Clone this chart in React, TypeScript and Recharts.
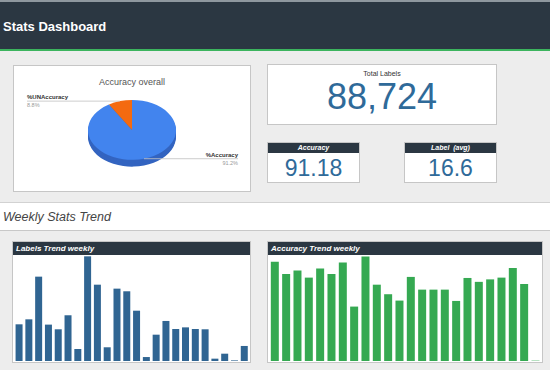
import { Bar, BarChart, Pie, PieChart, XAxis, YAxis } from "recharts";

// weekly categories
const weeks = [
  "W1", "W2", "W3", "W4", "W5", "W6", "W7", "W8", "W9", "W10", "W11", "W12",
  "W13", "W14", "W15", "W16", "W17", "W18", "W19", "W20", "W21", "W22", "W23", "W24",
];

// labels done per week
const labelsPerWeek = [
  3610, 4100, 8300, 3580, 3120, 4500, 1180, 10300, 7510, 1350, 7120, 6860,
  4950, 390, 2590, 3940, 3150, 3310, 3150, 3120, 230, 720, 60, 1480,
];

// accuracy % per week
const accuracyPerWeek = [
  98.1, 94.6, 95.6, 93.6, 96.2, 94.6, 97.9, 85.4, 99.6, 91.6, 88.9, 87.1,
  93.8, 90.2, 90.2, 90.2, 87.0, 93.5, 92.4, 93.1, 93.6, 96.3, 91.8, 70.1,
];

const splitNames = ["%UNAccuracy", "%Accuracy"];
const splitValues = [8.8, 91.2];

const totalLabels = 88724;
const accuracyAvg = 91.18;
const labelAvg = 16.6;

const labelsDomain = [0, 10430];
const accuracyDomain = [70, 100];

const DARK = "#2b3742";
const BLUE_NUM = "#2f6a99";
const SY = 0.68; // vertical squash for the "3d" pie

const labelsData = weeks.map((week, i) => ({ week, value: labelsPerWeek[i] }));
const accuracyData = weeks.map((week, i) => ({ week, value: accuracyPerWeek[i] }));
const splitData = splitNames.map((name, i) => ({ name, value: splitValues[i] }));

const topColors = ["#f46a10", "#4284ee"];
const sideColors = ["#c25308", "#3364c0"];

const RADIAN = Math.PI / 180;

const renderPieLabel = (props: any) => {
  const { cx, cy, midAngle, outerRadius, name, percent } = props;
  const ax = cx + outerRadius * Math.cos(-midAngle * RADIAN);
  const ay = cy + outerRadius * Math.sin(-midAngle * RADIAN);
  const left = ax < cx;
  const endX = left ? 13 : 224;
  const inv = 1 / SY;
  return (
    <g>
      <line
        x1={ax}
        y1={ay}
        x2={endX}
        y2={ay}
        stroke="#c4c4c4"
        strokeWidth={1}
        vectorEffect="non-scaling-stroke"
      />
      <g transform={`translate(${endX},${ay}) scale(1,${inv})`}>
        <text
          x={0}
          y={-2}
          textAnchor={left ? "start" : "end"}
          fontSize={6}
          fontWeight="bold"
          fill="#333"
        >
          {name}
        </text>
        <text
          x={0}
          y={6}
          textAnchor={left ? "start" : "end"}
          fontSize={5.5}
          fill="#999"
        >
          {(percent * 100).toFixed(1)}%
        </text>
      </g>
    </g>
  );
};

const abs = (left: number, top: number, extra: any = {}) => ({
  position: "absolute" as const,
  left,
  top,
  ...extra,
});

const panel = (left: number, top: number, width: number, height: number) => ({
  position: "absolute" as const,
  left,
  top,
  width,
  height,
  boxSizing: "border-box" as const,
  border: "1px solid #c6c6c6",
  background: "#fff",
});

const KpiCard = ({ left, title, value }: { left: number; title: string; value: string }) => (
  <div style={panel(left, 142, 93, 41)}>
    <div
      style={{
        height: 10,
        background: DARK,
        color: "#fff",
        fontSize: 7,
        fontWeight: "bold",
        fontStyle: "italic",
        lineHeight: "10px",
        textAlign: "center",
        whiteSpace: "pre",
      }}
    >
      {title}
    </div>
    <div
      style={{
        position: "absolute",
        left: 0,
        width: 91,
        top: 14,
        fontSize: 23,
        lineHeight: "23px",
        textAlign: "center",
        color: BLUE_NUM,
      }}
    >
      {value}
    </div>
  </div>
);

const TrendPanel = ({
  left,
  width,
  title,
  data,
  domain,
  color,
  gap,
}: {
  left: number;
  width: number;
  title: string;
  data: { week: string; value: number }[];
  domain: number[];
  color: string;
  gap: string;
}) => (
  <div style={panel(left, 241, width, 122)}>
    <div
      style={{
        height: 13,
        background: DARK,
        color: "#fff",
        fontSize: 8,
        fontWeight: "bold",
        fontStyle: "italic",
        lineHeight: "13px",
        paddingLeft: 3,
      }}
    >
      {title}
    </div>
    <BarChart
      width={width - 2}
      height={107}
      data={data}
      margin={{ top: 0, right: 1, bottom: 1, left: 1 }}
      barCategoryGap={gap}
    >
      <XAxis dataKey="week" hide />
      <YAxis hide domain={domain} allowDataOverflow />
      <Bar dataKey="value" fill={color} isAnimationActive={false} />
    </BarChart>
  </div>
);

const pieCx = 118;
const pieCy = 94;
const depthOffsets = [10, 8, 6, 4, 2];

export default function App() {
  return (
    <div
      style={{
        position: "absolute",
        left: 0,
        top: 0,
        width: 550,
        height: 370,
        overflow: "hidden",
        background: "#ededed",
        fontFamily: "'Liberation Sans', Arial, sans-serif",
      }}
    >
      {/* header */}
      <div style={abs(0, 0, { width: 550, height: 2, background: "#8e979e" })} />
      <div style={abs(0, 2, { width: 550, height: 47, background: DARK })} />
      <div style={abs(0, 49, { width: 550, height: 2, background: "#3cb45e" })} />
      <div
        style={abs(3, 20, {
          color: "#fff",
          fontSize: 13,
          fontWeight: "bold",
          lineHeight: "13px",
        })}
      >
        Stats Dashboard
      </div>

      {/* pie panel */}
      <div style={panel(13, 65, 238, 127)}>
        <div style={{ position: "absolute", left: 0, top: 0, width: 236, height: 125, overflow: "hidden" }}>
          <div
            style={{
              position: "absolute",
              left: 0,
              top: 0,
              transform: `scaleY(${SY})`,
              transformOrigin: "0 0",
            }}
          >
            <PieChart width={236} height={184} margin={{ top: 0, right: 0, bottom: 0, left: 0 }}>
              {depthOffsets.map((off) => (
                <Pie
                  key={off}
                  data={splitData.map((d, i) => ({ ...d, fill: sideColors[i] }))}
                  dataKey="value"
                  nameKey="name"
                  cx={pieCx}
                  cy={pieCy + off}
                  outerRadius={44}
                  startAngle={90}
                  endAngle={450}
                  stroke="none"
                  isAnimationActive={false}
                />
              ))}
              <Pie
                data={splitData.map((d, i) => ({ ...d, fill: topColors[i] }))}
                dataKey="value"
                nameKey="name"
                cx={pieCx}
                cy={pieCy}
                outerRadius={44}
                startAngle={90}
                endAngle={450}
                stroke="none"
                label={renderPieLabel}
                labelLine={false}
                isAnimationActive={false}
              />
            </PieChart>
          </div>
        </div>
        <div
          style={abs(0, 12, {
            width: 236,
            textAlign: "center",
            fontSize: 9,
            lineHeight: "9px",
            color: "#555",
          })}
        >
          Accuracy overall
        </div>
      </div>

      {/* total labels */}
      <div style={panel(267, 64, 230, 61)}>
        <div
          style={abs(0, 5, {
            width: 228,
            textAlign: "center",
            fontSize: 7,
            lineHeight: "7px",
            color: "#333",
          })}
        >
          Total Labels
        </div>
        <div
          style={abs(0, 14, {
            width: 228,
            textAlign: "center",
            fontSize: 36,
            lineHeight: "36px",
            color: BLUE_NUM,
          })}
        >
          {totalLabels.toLocaleString("en-US")}
        </div>
      </div>

      <KpiCard left={267} title="Accuracy" value={accuracyAvg.toFixed(2)} />
      <KpiCard left={404} title="Label  (avg)" value={labelAvg.toFixed(1)} />

      {/* section band */}
      <div
        style={abs(0, 202, {
          width: 550,
          height: 29,
          boxSizing: "border-box",
          background: "#fff",
          borderTop: "1px solid #d2d2d2",
          borderBottom: "1px solid #c8c8c8",
        })}
      />
      <div
        style={abs(3, 211, {
          fontSize: 12.5,
          fontStyle: "italic",
          lineHeight: "12.5px",
          color: "#444",
        })}
      >
        Weekly Stats Trend
      </div>

      <TrendPanel
        left={12}
        width={239}
        title="Labels Trend weekly"
        data={labelsData}
        domain={labelsDomain}
        color="#306592"
        gap="16%"
      />
      <TrendPanel
        left={267}
        width={276}
        title="Accuracy Trend weekly"
        data={accuracyData}
        domain={accuracyDomain}
        color="#35a952"
        gap="16%"
      />
    </div>
  );
}
